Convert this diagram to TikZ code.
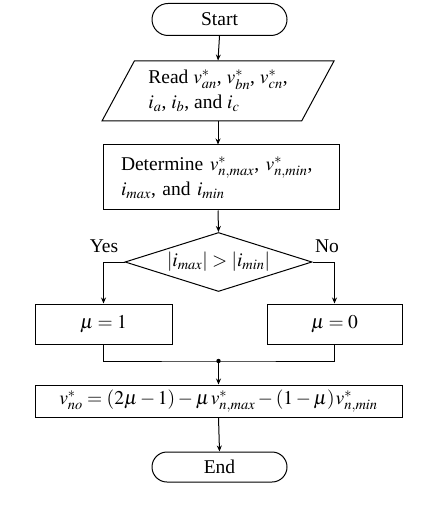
\documentclass[tikz,border=0pt]{standalone}
\usepackage{mathptmx}
\usepackage{fontspec}
\setmainfont{Liberation Serif}
\usetikzlibrary{shapes.geometric,shapes.misc,arrows.meta}
\begin{document}
\begin{tikzpicture}[x=1pt,y=-1pt,
  every node/.style={font=\fontsize{19.5}{25}\selectfont, inner sep=0pt},
  base/.style={draw, line width=1pt},
  term/.style={base, rounded rectangle, minimum width=135pt, minimum height=32pt},
  io/.style={base, trapezium, trapezium left angle=52.5, trapezium right angle=127.5,
     trapezium stretches body, minimum width=232pt, minimum height=60pt, align=left},
  proc/.style={base, rectangle, align=left},
  dec/.style={base, diamond, aspect=3.17, minimum width=187pt, minimum height=59pt},
  arr/.style={line width=1pt, -{Stealth[length=6pt,width=5pt]}},
  ln/.style={line width=1pt}]
\useasboundingbox (0,0) rectangle (436,510);
\node[term] (start) at (219.5,19.5) {Start};
\node[io] (read) at (218,91) {Read $v^*_{an}$, $v^*_{bn}$, $v^*_{cn}$,\\$i_a$, $i_b$, and $i_c$};
\node[proc, minimum width=236pt, minimum height=65pt, text width=200pt] (det) at (221,177.5) {Determine $v^*_{n,max}$, $v^*_{n,min}$,\\$i_{max}$, and $i_{min}$};
\node[dec] (dia) at (218.5,262) {$|i_{max}| > |i_{min}|$};
\node[proc, minimum width=137pt, minimum height=40pt] (mu1) at (103.5,324) {$\mu = 1$};
\node[proc, minimum width=135pt, minimum height=40pt] (mu0) at (334.5,324) {$\mu = 0$};
\coordinate (j) at (218.5,361);
\node[proc, minimum width=367pt, minimum height=32pt] (form) at (218.5,401) {$v^*_{no} = (2\mu - 1) - \mu\mkern1.5mu v^*_{n,max} - (1-\mu)\mkern1mu v^*_{n,min}$};
\node[term, minimum height=30pt] (end) at (219.5,467) {End};
\node (yes) at (104,246) {Yes};
\node (no) at (327,246) {No};
\draw[arr] (start.south) -- (read.north);
\draw[arr] (read.south) -- (read.south |- det.north);
\draw[arr] (read.south |- det.south) -- (dia.north);
\draw[arr] (dia.west) -| (mu1.north);
\draw[arr] (dia.east) -| (mu0.north);
\draw[ln] (mu1.south) |- (j) -| (mu0.south);
\fill (j) circle (2.2pt);
\draw[arr] (j) -- (form.north);
\draw[arr] (form.south) -- (end.north);
\end{tikzpicture}
\end{document}
